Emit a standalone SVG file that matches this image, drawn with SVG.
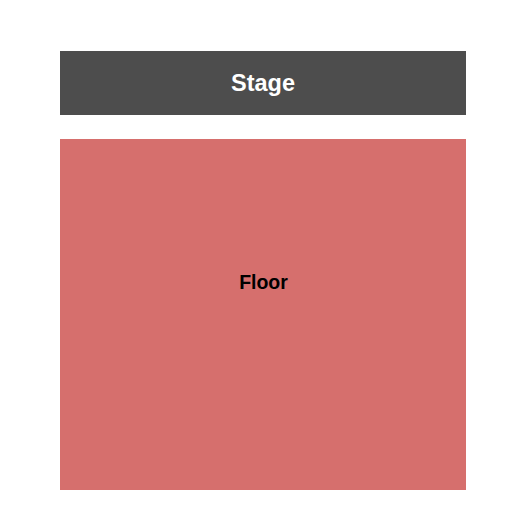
<svg xmlns="http://www.w3.org/2000/svg" width="525" height="525" viewBox="0 0 525 525">
<style>
.lbl{font-family:"Liberation Sans",Arial,sans-serif;font-weight:bold;text-anchor:middle}
</style>
<rect width="525" height="525" fill="#ffffff"/>
<g id="stage">
<rect x="60" y="51" width="406" height="64" fill="#4d4d4d"/>
<text class="lbl" x="263" y="91" font-size="23.5" fill="#ffffff">Stage</text>
</g>
<g id="floor">
<rect x="60" y="139" width="406" height="351" fill="#d66f6d"/>
<text class="lbl" x="263.5" y="289" font-size="19.5" fill="#000000">Floor</text>
</g>
<g id="connectors"></g>
</svg>
